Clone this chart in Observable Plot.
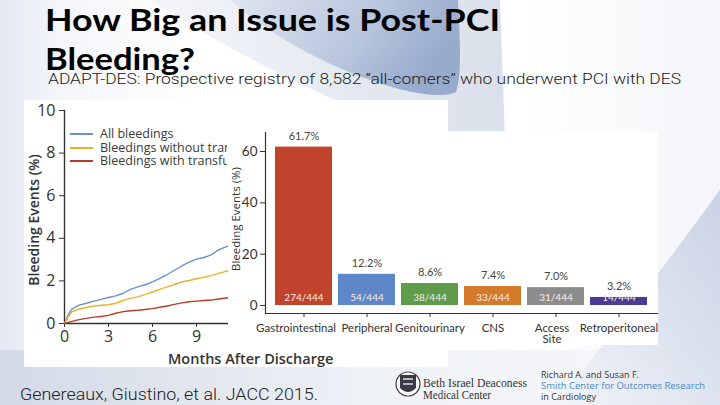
<!DOCTYPE html>
<html>
<head>
<meta charset="utf-8">
<script src="https://cdn.jsdelivr.net/npm/d3@7"></script>
<script src="https://cdn.jsdelivr.net/npm/@observablehq/plot@0.6"></script>
<style>
  html, body { margin: 0; padding: 0; }
  body { width: 720px; height: 405px; overflow: hidden; background: #fff; }
  #slide { position: relative; width: 720px; height: 405px; overflow: hidden;
    background: linear-gradient(90deg, #e4e8f2 0px, #f4f6fa 60px, #ffffff 200px, #ffffff 520px, #f3f5f9 720px); }
  #deco, #texts { position: absolute; left: 0; top: 0; }
  #texts { z-index: 5; pointer-events: none; }
  .panel { position: absolute; background: #fff; }
  #linePanel { left: 24px; top: 100px; width: 424px; height: 267px; z-index: 1; }
  #barPanel { left: 228px; top: 131px; width: 430px; height: 214px; z-index: 2; }
  .panel svg { display: block; }
  .lab { position: absolute; font-family: "Open Sans", sans-serif; color: #333; white-space: nowrap; }
  .rot { transform: translate(-50%, -50%) rotate(-90deg); }
  .legtext { position: absolute; width: 127px; overflow: hidden; font-family: "Open Sans", sans-serif; font-size: 12.5px; line-height: 16px; color: #3a3a3a; white-space: nowrap; }
  .swatch { position: absolute; width: 23px; height: 2px; }
</style>
</head>
<body>
<div id="slide">
  <svg id="deco" width="720" height="405">
    <defs>
      <linearGradient id="wash" x1="0" y1="0" x2="1" y2="0">
        <stop offset="0" stop-color="#f3f5f9"/>
        <stop offset="1" stop-color="#dae0eb"/>
      </linearGradient>
      <linearGradient id="crescent" x1="0" y1="0" x2="1" y2="0.3">
        <stop offset="0" stop-color="#dfe5ef"/>
        <stop offset="0.6" stop-color="#bac7de"/>
        <stop offset="1" stop-color="#97abcd"/>
      </linearGradient>
      <linearGradient id="corner" x1="0" y1="1" x2="1" y2="0">
        <stop offset="0" stop-color="#f2f4f9"/>
        <stop offset="1" stop-color="#c9d3e5"/>
      </linearGradient>
      <linearGradient id="foot" x1="0" y1="0" x2="1" y2="0">
        <stop offset="0" stop-color="#d3dae7"/>
        <stop offset="0.5" stop-color="#eef1f6"/>
        <stop offset="1" stop-color="#f7f8fb"/>
      </linearGradient>
    </defs>
    <rect x="0" y="350" width="720" height="55" fill="url(#foot)"/>
    <path d="M150 0 L500 0 L505 140 L440 140 Q300 95 150 0 Z" fill="url(#wash)"/>
    <path d="M230 0 L458 0 C460 40 462 75 456 92 C430 106 310 70 230 0 Z" fill="url(#crescent)"/>
    <path d="M720 190 L720 405 L555 405 Q640 300 720 190 Z" fill="url(#corner)"/>
  </svg>

  <div id="linePanel" class="panel"></div>
  <div id="barPanel" class="panel"></div>

  <svg id="texts" width="720" height="405">
    <g font-family="Lato, sans-serif" font-weight="700" fill="#000">
      <text x="45" y="31" font-size="30" textLength="455" lengthAdjust="spacingAndGlyphs">How Big an Issue is Post-PCI</text>
      <text x="45" y="70" font-size="30" textLength="150" lengthAdjust="spacingAndGlyphs">Bleeding?</text>
    </g>
    <text x="48" y="84" font-family="Roboto, 'Liberation Sans', sans-serif" font-weight="300" font-size="14.5" fill="#222" textLength="633" lengthAdjust="spacingAndGlyphs">ADAPT-DES: Prospective registry of 8,582 “all-comers” who underwent PCI with DES</text>
    <text x="20" y="400" font-family="Roboto, 'Liberation Sans', sans-serif" font-weight="300" font-size="16.5" fill="#222" textLength="298" lengthAdjust="spacingAndGlyphs">Genereaux, Giustino, et al. JACC 2015.</text>
    <g>
      <circle cx="408" cy="384" r="12" fill="#fff" stroke="#444" stroke-width="1.2"/>
      <path d="M400 375 L416 375 L416 388 Q408 396 400 388 Z" fill="#3a3a44"/>
      <path d="M403 379 L413 379 M403 384 L413 384" stroke="#d8dbe2" stroke-width="1.3"/>
    </g>
    <g font-family="'Liberation Serif', 'DejaVu Serif', serif" font-size="11.5" fill="#333">
      <text x="423" y="387" textLength="104" lengthAdjust="spacingAndGlyphs">Beth Israel Deaconess</text>
      <text x="423" y="399" textLength="68" lengthAdjust="spacingAndGlyphs">Medical Center</text>
    </g>
    <g font-family="'Open Sans', sans-serif" font-size="9.5">
      <text x="541" y="378" fill="#333" textLength="98" lengthAdjust="spacingAndGlyphs">Richard A. and Susan F.</text>
      <text x="541" y="389" fill="#4b8ac4" textLength="164" lengthAdjust="spacingAndGlyphs">Smith Center for Outcomes Research</text>
      <text x="541" y="400" fill="#333" textLength="55" lengthAdjust="spacingAndGlyphs">in Cardiology</text>
    </g>
  </svg>
</div>

<script>
// Cumulative bleeding after discharge (%), by month
const months = [0, 0.25, 0.5, 1, 1.5, 2, 2.5, 3, 3.5, 4, 4.5, 5, 5.5, 6, 6.5, 7, 7.5, 8, 8.5, 9, 9.5, 10, 10.5, 11, 11.5];
const allBleedings = [0, 0.4, 0.68, 0.86, 0.95, 1.05, 1.13, 1.22, 1.3, 1.42, 1.6, 1.72, 1.82, 1.95, 2.12, 2.3, 2.5, 2.7, 2.88, 3.02, 3.1, 3.22, 3.45, 3.6, 3.7];
const withoutTransfusion = [0, 0.3, 0.55, 0.68, 0.75, 0.82, 0.86, 0.88, 0.95, 1.08, 1.18, 1.25, 1.37, 1.48, 1.6, 1.72, 1.83, 1.95, 2.02, 2.1, 2.17, 2.25, 2.35, 2.45, 2.5];
const withTransfusion = [0, 0.05, 0.1, 0.18, 0.24, 0.3, 0.33, 0.38, 0.48, 0.56, 0.6, 0.62, 0.66, 0.7, 0.76, 0.82, 0.9, 0.97, 1.02, 1.05, 1.08, 1.1, 1.15, 1.2, 1.22];
const seriesNames = ["All bleedings", "Bleedings without transfusion", "Bleedings with transfusion"];
const seriesColors = ["#6b91c9", "#e3b52a", "#bb3b2b"];
const monthTicks = [0, 3, 6, 9, 12];
const percentTicks = [0, 2, 4, 6, 8, 10];

// Bleeding site among 444 bleeding events
const sites = ["Gastrointestinal", "Peripheral", "Genitourinary", "CNS", "Access Site", "Retroperitoneal"];
const siteCounts = [274, 54, 38, 33, 31, 14];
const totalBleeds = 444;
const siteColors = ["#c0432c", "#5d87c8", "#5f9b49", "#d47a2c", "#8c8c8c", "#4b3b92"];
const siteTicks = [0, 20, 40, 60];

const lineRows = [];
[allBleedings, withoutTransfusion, withTransfusion].forEach((vals, s) => {
  vals.forEach((v, i) => lineRows.push({month: months[i], pct: v, series: seriesNames[s]}));
});

const linePlot = Plot.plot({
  width: 424, height: 267,
  marginLeft: 40, marginTop: 10, marginBottom: 44, marginRight: 208,
  style: {fontFamily: "Open Sans, sans-serif", fontSize: "16px", color: "#333", background: "transparent", overflow: "visible"},
  x: {domain: [0, 12], label: null},
  y: {domain: [0, 10], label: null},
  color: {domain: seriesNames, range: seriesColors},
  marks: [
    Plot.axisY({ticks: percentTicks, tickSize: 5, tickPadding: 4, label: null, stroke: "#333"}),
    Plot.axisX({ticks: monthTicks, tickSize: 4, tickPadding: 3, label: null, stroke: "#333"}),
    Plot.frame({anchor: "left", stroke: "#333", strokeWidth: 1.4}),
    Plot.frame({anchor: "bottom", stroke: "#333", strokeWidth: 1.4}),
    Plot.line(lineRows, {x: "month", y: "pct", stroke: "series", strokeWidth: 1.4, z: "series"})
  ]
});
document.getElementById("linePanel").appendChild(linePlot);

const siteRows = sites.map((s, i) => ({site: s, count: siteCounts[i], pct: siteCounts[i] / totalBleeds * 100}));

// category names: the long first one and the two-line one sit slightly left of their ticks
const siteLabel = d => d === "Access Site" ? "Access\nSite" : d;
const axisText = {label: null, fontSize: 11.5, tickSize: 0, tickPadding: 10, tickFormat: siteLabel, fill: "#333"};

const barPlot = Plot.plot({
  width: 430, height: 214,
  marginLeft: 37, marginRight: 1, marginTop: 1, marginBottom: 32,
  style: {fontFamily: "Lato, 'Open Sans', sans-serif", fontSize: "12.5px", color: "#333", background: "transparent", overflow: "visible"},
  x: {domain: sites, padding: 0.1, insetLeft: 3, insetRight: 3, label: null},
  y: {domain: [-3.1, 67.4], label: null},
  color: {domain: sites, range: siteColors},
  marks: [
    Plot.axisY({ticks: siteTicks, tickSize: 5, tickPadding: 3, label: null, fontSize: 13.5}),
    Plot.axisX({tickSize: 4, tickFormat: () => "", label: null}),
    Plot.axisX({...axisText, ticks: [sites[0]], dx: -8}),
    Plot.axisX({...axisText, ticks: [sites[1], sites[2], sites[3], sites[5]]}),
    Plot.axisX({...axisText, ticks: [sites[4]], dx: -4}),
    Plot.frame({anchor: "left", stroke: "#333", strokeWidth: 1.2}),
    Plot.frame({anchor: "bottom", stroke: "#333", strokeWidth: 1.2}),
    Plot.barY(siteRows, {x: "site", y1: 0, y2: "pct", fill: "site"}),
    Plot.text(siteRows, {x: "site", y: "pct", text: d => d.pct.toFixed(1) + "%", dy: -11, fontSize: 11, fill: "#444"}),
    Plot.text(siteRows, {x: "site", frameAnchor: "bottom", text: d => `${d.count}/${totalBleeds}`, dy: -12.5, fontSize: 10, fill: "#f4ecea"})
  ]
});
document.getElementById("barPanel").appendChild(barPlot);

// axis titles and legend placed as page text
const slide = document.getElementById("slide");
function addLabel(text, css, cls) {
  const el = document.createElement("div");
  el.className = cls;
  el.textContent = text;
  Object.assign(el.style, css);
  slide.appendChild(el);
  return el;
}
addLabel("Bleeding Events (%)", {left: "33px", top: "220px", fontSize: "14px", fontWeight: "600", zIndex: 1}, "lab rot");
addLabel("Months After Discharge", {left: "168px", top: "349px", fontSize: "14.5px", fontWeight: "600", zIndex: 1}, "lab");
addLabel("Bleeding Events (%)", {left: "235px", top: "219px", fontSize: "11.5px", zIndex: 3}, "lab rot");

seriesNames.forEach((name, i) => {
  const y = 134 + i * 13.5;
  const sw = document.createElement("div");
  sw.className = "swatch";
  Object.assign(sw.style, {left: "70px", top: (y - 1) + "px", background: seriesColors[i], zIndex: 1});
  const tx = document.createElement("div");
  tx.className = "legtext";
  tx.textContent = name;
  Object.assign(tx.style, {left: "100px", top: (y - 8) + "px", zIndex: 1});
  slide.appendChild(sw);
  slide.appendChild(tx);
});
</script>
</body>
</html>
